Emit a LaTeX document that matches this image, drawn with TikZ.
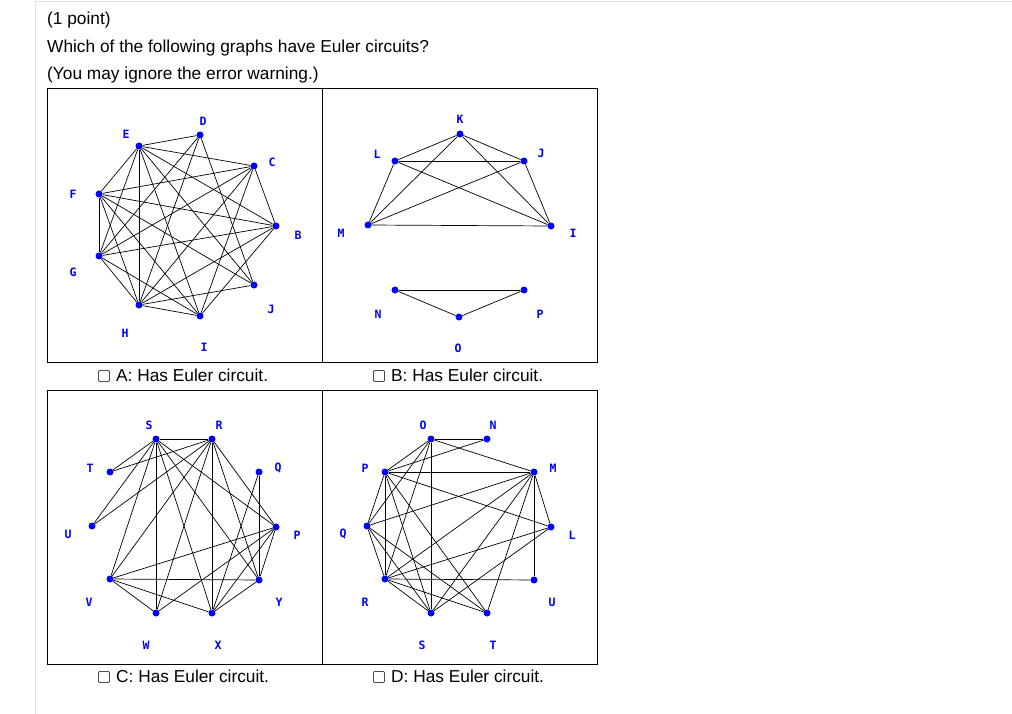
\documentclass[tikz,border=0pt]{standalone}
\usepackage{fontspec}
\setmainfont{Liberation Sans}
\newfontfamily\lblfont{DejaVu Sans Mono}
\begin{document}
\begin{tikzpicture}[x=1pt,y=-1pt,
  vtx/.style={circle,fill=blue,inner sep=0pt,minimum size=7pt},
  lbl/.style={text=blue,font=\lblfont\bfseries\fontsize{11.5}{13}\selectfont,inner sep=0pt},
  txt/.style={anchor=west,inner sep=0pt,font=\fontsize{17.3}{20}\selectfont},
  edge/.style={black,line width=0.7pt},
  panel/.style={draw=black,line width=1pt},
  cbox/.style={draw=black!70,line width=0.8pt,minimum size=11pt,inner sep=0pt,rounded corners=1pt}]
\useasboundingbox (0,0) rectangle (1012,714);
\draw[black!12,line width=1pt] (35,714) -- (35,2) -- (1012,2);
\node[txt] (t1) at (47,20) {(1 point)};
\node[txt] (t2) at (47,48) {Which of the following graphs have Euler circuits?};
\node[txt] (t3) at (47,75) {(You may ignore the error warning.)};
\node[panel,minimum width=275pt,minimum height=274pt,inner sep=0pt,anchor=north west] (pa) at (47,88) {};
\node[panel,minimum width=275pt,minimum height=274pt,inner sep=0pt,anchor=north west] (pb) at (322,88) {};
\node[panel,minimum width=275pt,minimum height=274pt,inner sep=0pt,anchor=north west] (pc) at (47,390) {};
\node[panel,minimum width=275pt,minimum height=274pt,inner sep=0pt,anchor=north west] (pd) at (322,390) {};
\node[cbox] (ca) at (104,376) {}; \node[txt] (ta) at (116,375) {A: Has Euler circuit.};
\node[cbox] (cb) at (379,376) {}; \node[txt] (tb) at (391,375) {B: Has Euler circuit.};
\node[cbox] (cc) at (104,677) {}; \node[txt] (tc) at (116,676) {C: Has Euler circuit.};
\node[cbox] (cd) at (379,677) {}; \node[txt] (td) at (391,676) {D: Has Euler circuit.};
% Graph A
\node[vtx] (aE) at (139,146) {}; \node[vtx] (aD) at (200,135) {};
\node[vtx] (aC) at (254,166) {}; \node[vtx] (aF) at (99,194) {};
\node[vtx] (aB) at (276,226) {}; \node[vtx] (aG) at (99,256) {};
\node[vtx] (aJ) at (254,285) {}; \node[vtx] (aH) at (139,305) {};
\node[vtx] (aI) at (200,316) {};
\node[lbl] at (203,121) {D}; \node[lbl] at (126,134) {E}; \node[lbl] at (272,162) {C};
\node[lbl] at (73,194) {F}; \node[lbl] at (298,235) {B}; \node[lbl] at (73,272) {G};
\node[lbl] at (271,309) {J}; \node[lbl] at (125,333) {H}; \node[lbl] at (204,347) {I};
\foreach \a/\b in {E/D,E/C,E/F,E/G,E/H,E/I,E/B,E/J,D/H,D/J,D/G,C/F,C/G,C/H,C/I,C/B,
  F/G,F/B,F/H,F/I,F/J,G/B,G/H,G/I,B/H,B/I,J/H,H/I}
  \draw[edge] (a\a) -- (a\b);
% Graph B
\node[vtx] (bK) at (460,134) {}; \node[vtx] (bL) at (395,161) {};
\node[vtx] (bJ) at (524,161) {}; \node[vtx] (bM) at (368,225) {};
\node[vtx] (bI) at (551,226) {}; \node[vtx] (bN) at (395,290) {};
\node[vtx] (bP) at (524,290) {}; \node[vtx] (bO) at (459,317) {};
\node[lbl] at (460,119) {K}; \node[lbl] at (377,154) {L}; \node[lbl] at (541,153) {J};
\node[lbl] at (341,233) {M}; \node[lbl] at (573,233) {I}; \node[lbl] at (378,314) {N};
\node[lbl] at (540,314) {P}; \node[lbl] at (458,348) {O};
\foreach \a/\b in {K/L,K/J,K/M,K/I,L/J,L/M,L/I,J/M,J/I,M/I,N/P,N/O,O/P}
  \draw[edge] (b\a) -- (b\b);
% Graph C
\node[vtx] (cS) at (156,439) {}; \node[vtx] (cR) at (212,439) {};
\node[vtx] (cT) at (110,472) {}; \node[vtx] (cQ) at (259,472) {};
\node[vtx] (cU) at (92,526) {};  \node[vtx] (cP) at (276,527) {};
\node[vtx] (cV) at (110,579) {}; \node[vtx] (cY) at (259,580) {};
\node[vtx] (cW) at (156,613) {}; \node[vtx] (cX) at (212,613) {};
\node[lbl] at (149,425) {S}; \node[lbl] at (219,425) {R}; \node[lbl] at (90,468) {T};
\node[lbl] at (278,468) {Q}; \node[lbl] at (68,534) {U}; \node[lbl] at (297,535) {P};
\node[lbl] at (89,602) {V}; \node[lbl] at (279,602) {Y}; \node[lbl] at (146,645) {W};
\node[lbl] at (218,645) {X};
\foreach \a/\b in {S/R,S/T,S/U,S/W,S/V,S/X,S/Y,S/P,R/T,R/U,R/V,R/W,R/X,R/Y,R/P,Q/Y,Q/X,
  P/V,P/W,P/X,P/Y,V/Y,V/W,V/X,X/Y}
  \draw[edge] (c\a) -- (c\b);
% Graph D
\node[vtx] (dO) at (431,439) {}; \node[vtx] (dN) at (487,439) {};
\node[vtx] (dP) at (385,472) {}; \node[vtx] (dM) at (534,472) {};
\node[vtx] (dQ) at (367,526) {}; \node[vtx] (dL) at (551,527) {};
\node[vtx] (dR) at (385,579) {}; \node[vtx] (dU) at (534,580) {};
\node[vtx] (dS) at (431,613) {}; \node[vtx] (dT) at (487,613) {};
\node[lbl] at (423,425) {O}; \node[lbl] at (493,425) {N}; \node[lbl] at (365,468) {P};
\node[lbl] at (553,468) {M}; \node[lbl] at (343,534) {Q}; \node[lbl] at (572,535) {L};
\node[lbl] at (365,602) {R}; \node[lbl] at (552,602) {U}; \node[lbl] at (422,645) {S};
\node[lbl] at (493,645) {T};
\foreach \a/\b in {O/N,O/M,O/P,O/Q,O/R,O/S,N/P,P/M,P/L,P/Q,P/R,P/S,P/T,M/L,M/Q,M/R,M/S,M/T,
  M/U,L/R,L/S,U/R,Q/R,Q/S,Q/T,R/S,R/T}
  \draw[edge] (d\a) -- (d\b);
\end{tikzpicture}
\end{document}
